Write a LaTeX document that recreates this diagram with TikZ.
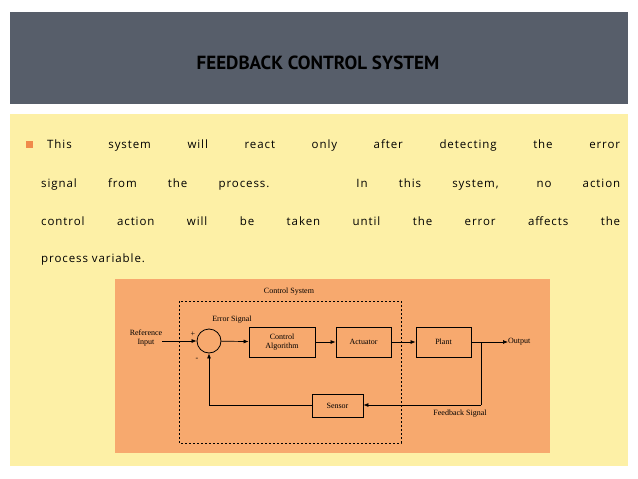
\documentclass[tikz,border=0pt]{standalone}
\usepackage{fontspec}
\setmainfont{Open Sans}
\newfontfamily\titlefont{PT Sans}
\newfontfamily\bodyfont[LetterSpace=8]{Open Sans}
\newfontfamily\diafont{Liberation Serif}
\usetikzlibrary{arrows.meta}
\definecolor{banner}{HTML}{575E6A}
\definecolor{pale}{HTML}{FDF0A6}
\definecolor{peach}{HTML}{F7A96E}
\definecolor{bul}{HTML}{F08A4B}
\tikzset{
  blk/.style={draw, line width=0.8pt, minimum height=30pt, inner sep=0pt, font=\diafont\fontsize{8}{9}\selectfont, align=center},
  lbl/.style={font=\diafont\fontsize{8}{9}\selectfont, align=center, inner sep=0pt},
  sig/.style={line width=0.7pt, -{Latex[length=5pt,width=4pt]}},
  ln/.style={line width=0.7pt},
  txt/.style={anchor=west, inner sep=0pt, font=\bodyfont\fontsize{11.5}{13}\selectfont}
}
\begin{document}
\begin{tikzpicture}[x=1pt,y=-1pt]
\useasboundingbox (0,0) rectangle (638,479);
\fill[white] (0,0) rectangle (638,479);
\fill[banner] (10,12) rectangle (628,104);
\node[font=\titlefont\bfseries\fontsize{19}{22}\selectfont, inner sep=0pt] (title) at (318,63) {FEEDBACK CONTROL SYSTEM};
\fill[pale] (10,114) rectangle (628,466);
\fill[bul] (26,141) rectangle (33,148);
\node[txt] (l1) at (47,145) {\makebox[573pt][s]{This system will react only after detecting the error}};
\node[txt] (l2) at (41,184) {\makebox[579pt][s]{signal from the process. In this system, no action}};
\node[txt] (l3) at (41,221) {\makebox[579pt][s]{control action will be taken until the error affects the}};
\node[txt] (l4) at (41,260) {process variable.};
\fill[peach] (115,279) rectangle (550,453);
\draw[ln, dashed, dash pattern=on 2pt off 2pt] (179,301) rectangle (401,443);
\node[lbl] (cs) at (289,292) {Control System};
\node[draw, circle, line width=0.8pt, minimum size=24pt, inner sep=0pt] (sum) at (209,341) {};
\node[blk, minimum width=66pt] (ca) at (282,342) {Control\\Algorithm};
\node[blk, minimum width=55pt] (act) at (363.5,342) {Actuator};
\node[blk, minimum width=55pt] (plant) at (443.5,342) {Plant};
\node[blk, minimum width=51pt, minimum height=23pt] (sen) at (337.5,406) {Sensor};
\node[lbl] (ref) at (146,338) {Reference\\Input};
\node[lbl, anchor=west] (out) at (508,342) {Output};
\node[lbl] (err) at (232,320) {Error Signal};
\node[lbl] (fb) at (460,414) {Feedback Signal};
\node[lbl] (plus) at (193,334) {+};
\node[lbl] (minus) at (197,359) {-};
\coordinate (br) at (481,342);
\coordinate (br2) at (481,405);
\coordinate (lc) at (209,405);
\draw[sig] (ref.east |- sum) -- (sum);
\draw[sig] (sum) -- (ca);
\draw[sig] (ca) -- (act);
\draw[sig] (act) -- (plant);
\draw[sig] (plant) -- (out.west);
\draw[ln] (br) -- (br2);
\draw[sig] (br2) -- (sen.east |- br2);
\draw[ln] (sen.west |- lc) -- (lc);
\draw[sig] (lc) -- (sum);
\end{tikzpicture}
\end{document}
